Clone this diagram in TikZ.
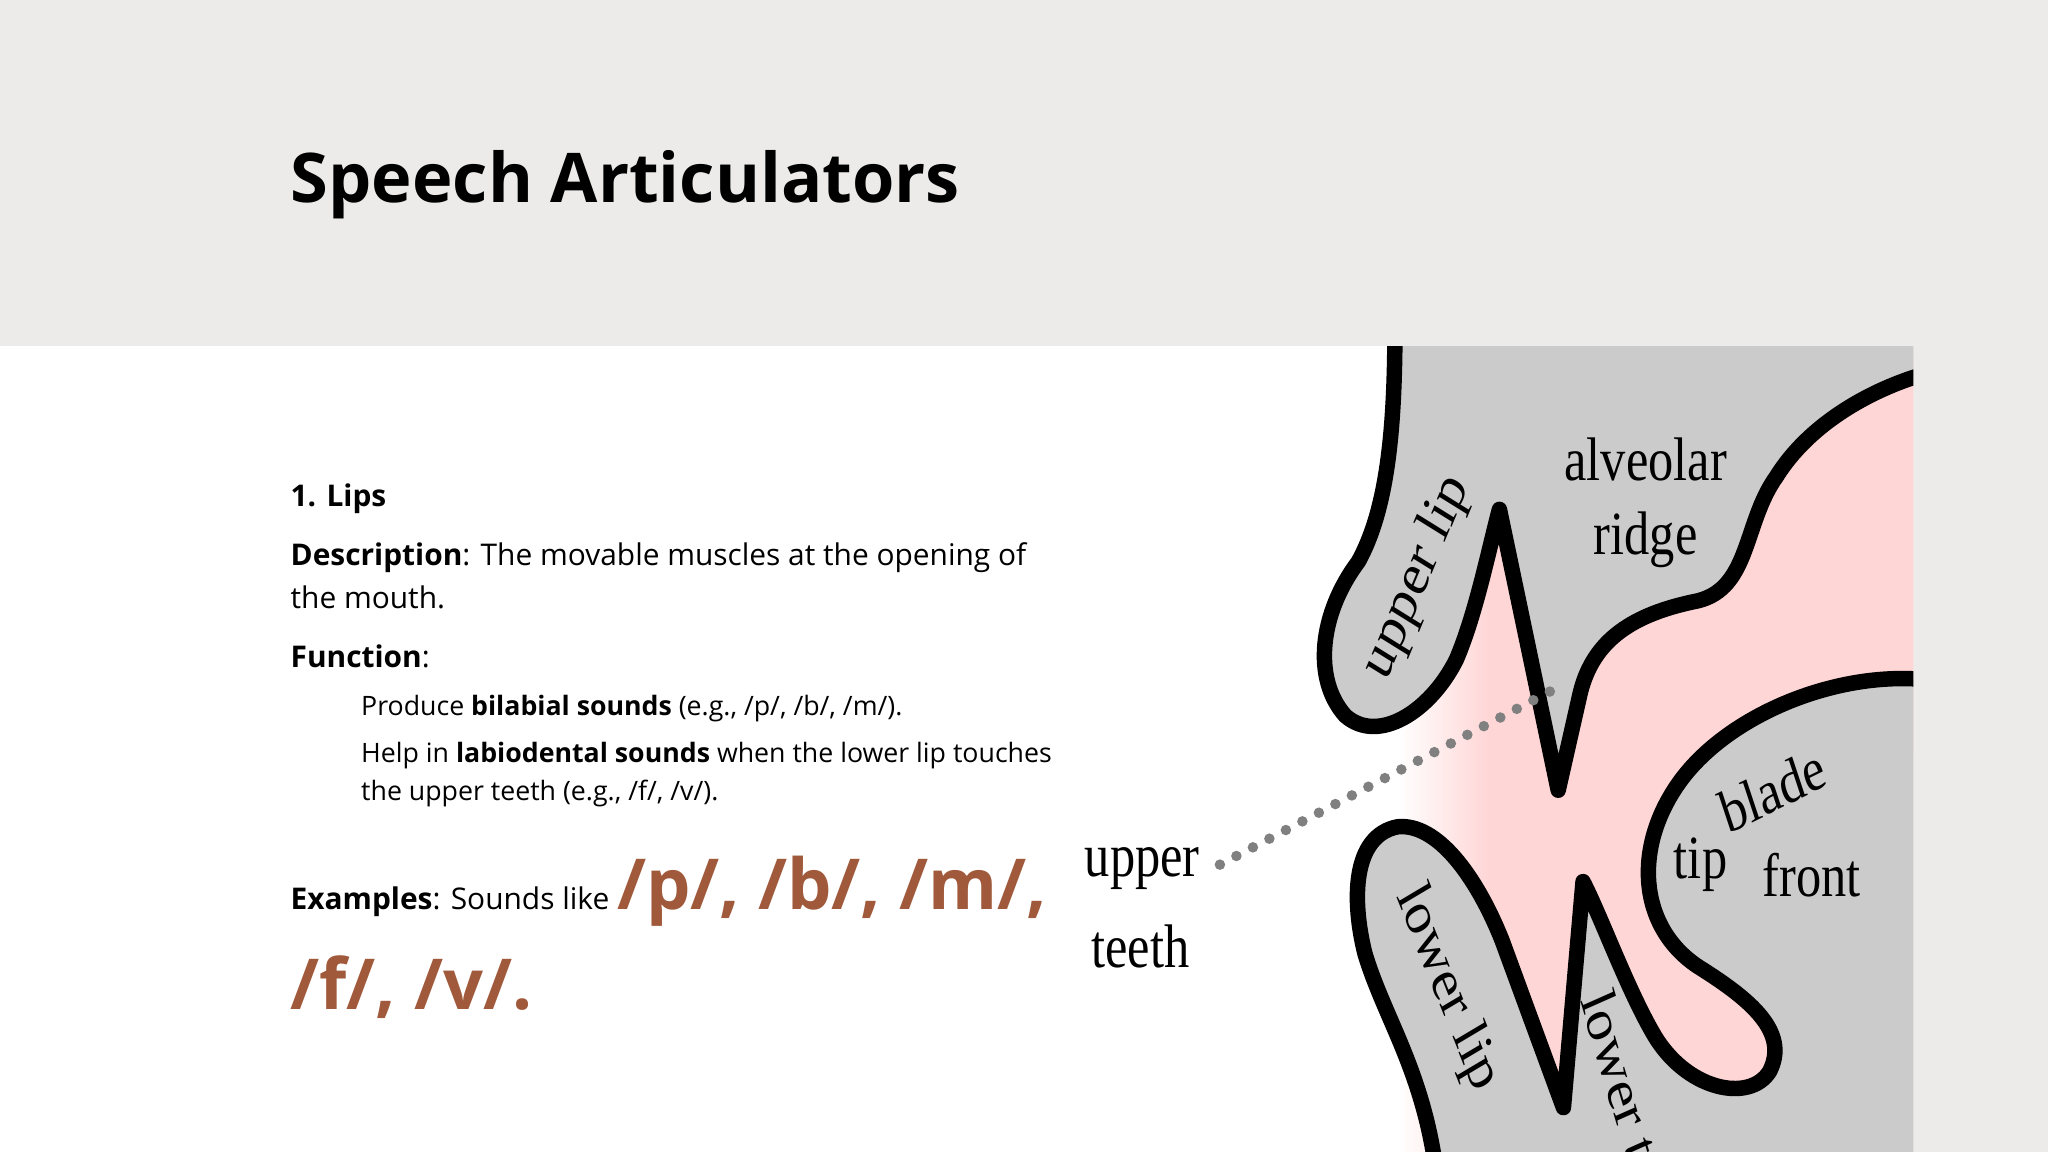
\documentclass[tikz,border=0pt]{standalone}
\usepackage{fontspec}
\setmainfont{Open Sans}
\newfontfamily\tms{Liberation Serif}
\definecolor{bandgray}{HTML}{ECEBE9}
\definecolor{orggray}{HTML}{CBCBCB}
\definecolor{pinkm}{HTML}{FFD6D6}
\definecolor{brownx}{HTML}{A0593B}
\begin{document}
\begin{tikzpicture}[x=0.01306cm,y=-0.01306cm,
  body/.style={anchor=base west,inner sep=0,font=\fontsize{8.5pt}{10pt}\selectfont},
  item/.style={anchor=base west,inner sep=0,font=\fontsize{7.6pt}{9pt}\selectfont},
  lab/.style={inner sep=0,font=\tms\fontsize{17.5pt}{18pt}\selectfont,xscale=0.82},
  outl/.style={line width=4.4pt,line join=round,line cap=round}]
\useasboundingbox (0,0) rectangle (1568,882);
\fill[bandgray] (0,0) rectangle (1568,882);
\fill[white] (0,265) rectangle (1465,882);
\node[anchor=base west,inner sep=0,font=\bfseries\fontsize{19.5pt}{22pt}\selectfont] (title) at (222,155) {Speech Articulators};
\node[body] (lips) at (222,388) {\textbf{1. Lips}};
\node[body] (desc) at (222,433) {\textbf{Description}: The movable muscles at the opening of};
\node[body] (desc2) at (222,466) {the mouth.};
\node[body] (func) at (222,511) {\textbf{Function}:};
\node[item] (i1) at (276,548) {Produce \textbf{bilabial sounds} (e.g., /p/, /b/, /m/).};
\node[item] (i2) at (276,584) {Help in \textbf{labiodental sounds} when the lower lip touches};
\node[item] (i3) at (276,613) {the upper teeth (e.g., /f/, /v/).};
\node[body] (ex) at (222,696) {\textbf{Examples}: Sounds like {\color{brownx}\bfseries\fontsize{20pt}{22pt}\selectfont /p/, /b/, /m/,}};
\node[anchor=base west,inner sep=0,text=brownx,font=\bfseries\fontsize{20pt}{22pt}\selectfont] (ex2) at (222,773) {/f/, /v/.};
% diagram
\begin{scope}
\clip (1000,265) rectangle (1465,882);
\shade[left color=white,right color=pinkm,shading angle=90] (1070,300) rectangle (1140,882);
\fill[pinkm] (1140,290) -- (1470,270) -- (1470,560) -- (1370,860) -- (1140,860) -- cycle;
\filldraw[fill=orggray,outl] (1068,250) .. controls (1068,330) and (1062,390) .. (1040,430)
 .. controls (1010,470) and (1005,520) .. (1030,548) .. controls (1055,570) and (1095,545) .. (1115,505)
 .. controls (1130,470) and (1140,420) .. (1148,390) -- (1193,605) -- (1210,530)
 .. controls (1220,490) and (1250,470) .. (1300,460) .. controls (1340,450) and (1335,400) .. (1360,365)
 .. controls (1385,325) and (1430,300) .. (1468,288) -- (1520,288) -- (1520,240) -- cycle;
\filldraw[fill=orggray,outl] (1470,520) .. controls (1400,515) and (1320,550) .. (1285,600)
 .. controls (1250,650) and (1255,710) .. (1300,740) .. controls (1340,765) and (1370,790) .. (1355,820)
 .. controls (1340,845) and (1290,835) .. (1265,790) .. controls (1245,755) and (1225,700) .. (1212,675)
 -- (1197,848) -- (1150,720) .. controls (1130,670) and (1100,630) .. (1070,633)
 .. controls (1035,640) and (1035,690) .. (1045,730) .. controls (1060,780) and (1090,820) .. (1100,900)
 -- (1520,900) -- (1520,520) -- cycle;
\node[lab,rotate=63] (ul) at (1085,442) {upper lip};
\node[lab,rotate=-64] (ll) at (1108,757) {lower lip};
\node[lab,rotate=-70,anchor=west] (lt) at (1222,760) {lower teeth};
\node[lab,rotate=22] (bl) at (1357,605) {blade};
\node[lab] (tip) at (1302,662) {tip};
\node[lab] (fr) at (1387,670) {front};
\node[lab] (al) at (1260,352) {alveolar};
\node[lab] (rg) at (1260,413) {ridge};
\end{scope}
\node[lab,anchor=east] (ut) at (919,665) {upper};
\node[lab] (tt) at (873,725) {teeth};
\coordinate (tooth) at (1197,524);
\coordinate (dstart) at (934,662);
\draw[gray,line width=3pt,line cap=round,dash pattern=on 0pt off 5.3pt] (dstart) -- (tooth);
\end{tikzpicture}
\end{document}
